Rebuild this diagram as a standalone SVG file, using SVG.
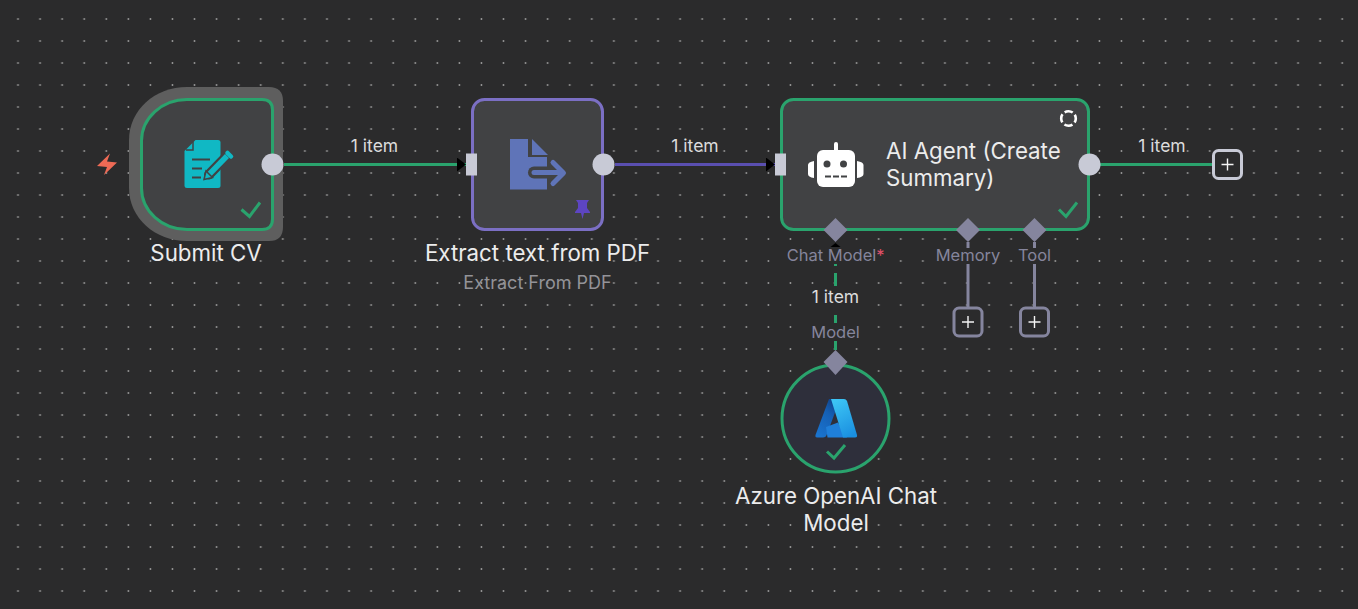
<svg xmlns="http://www.w3.org/2000/svg" width="1358" height="609" viewBox="0 0 1358 609">
<style>
text{font-family:Inter,"Liberation Sans",sans-serif;text-anchor:middle}
.name{font-size:22.300px;fill:#ececec;font-weight:400}
.sub{font-size:18px;fill:#939398}
.item{font-size:17.500px;fill:#dcdcdc}
.port{font-size:16.500px;fill:#85859c}
.card{fill:#414244;stroke-width:3}
.ok{stroke:#2aa36d}
.out{fill:#c8cad6}
.in{fill:#c8cad6}
.dia{fill:#85859e}
.wire{fill:none;stroke-width:3}
.g{stroke:#2aa36d}
.p{stroke:#5a4fb0}
.s{stroke:#85859e}
.check{fill:none;stroke:#2aa36d;stroke-width:3}
.plus{fill:#2b2b2c;stroke-width:3}
.cross{stroke:#f4f4f4;stroke-width:1.400}
</style>
<defs>
<pattern id="dots" x="7" y="8" width="22.070" height="22" patternUnits="userSpaceOnUse">
<circle cx="11" cy="11" r="0.900" fill="#9c9c9c"/>
</pattern>
<marker id="tip" markerWidth="9" markerHeight="14" refX="9" refY="7" orient="auto" markerUnits="userSpaceOnUse"><path d="M0 0L9 7L0 14Z" fill="#000"/></marker>
<linearGradient id="az1" x1="0.800" y1="0" x2="0.200" y2="1"><stop offset="0" stop-color="#0f3f85"/><stop offset="0.400" stop-color="#1560b5"/><stop offset="1" stop-color="#1a74cf"/></linearGradient>
<linearGradient id="az2" x1="0.300" y1="0" x2="0.700" y2="1"><stop offset="0" stop-color="#3cc4f4"/><stop offset="1" stop-color="#1a8fe0"/></linearGradient>
</defs>
<rect width="1358" height="609" fill="#2b2b2c"/>
<rect width="1358" height="609" fill="url(#dots)"/>

<g id="connectors">
<path class="wire g" d="M284 164.500H466" marker-end="url(#tip)"/>
<path class="wire p" d="M615 164.500H775" marker-end="url(#tip)"/>
<path class="wire g" d="M1100 164.500H1213"/>
<path class="wire g" d="M835.500 350V262" stroke-dasharray="14 7"/>
<path d="M830.500 247L835.500 243L840.500 247Z" fill="#000"/>
<path class="wire s" d="M968 242V308"/>
<path class="wire s" d="M1034.500 242V308"/>
<text class="item" x="374.500" y="152">1 item</text>
<text class="item" x="695" y="152">1 item</text>
<text class="item" x="1162" y="152">1 item</text>
<rect x="808" y="286" width="56" height="22" fill="#2b2b2c"/>
<text class="item" x="835.500" y="303">1 item</text>
</g>

<g id="submit-cv">
<path d="M129 140C129 110 155 87 187 87H269Q283 87 283 101V227Q283 241 269 241H187C155 241 129 218 129 188Z" fill="#5e5e5e"/>
<path class="card ok" d="M141.500 141C141.500 118 162 99.500 187 99.500H262Q272.500 99.500 272.500 110V219Q272.500 229.500 262 229.500H187C162 229.500 141.500 211 141.500 188Z"/>
<path d="M97 166L110 153.500L107 161.500L117 162.500L104 175L107 167Z" fill="#ee6a55"/>
<path d="M195.500 140H218Q220.500 140 220.500 142.500V185.500Q220.500 188 218 188H187Q184.500 188 184.500 185.500V151Z" fill="#10b8c4"/>
<path d="M193 141.500V150H186" fill="none" stroke="#414244" stroke-width="1.500"/>
<path d="M192 159.500H210M192 168.500H202M192 177.500H201" stroke="#414244" stroke-width="2" fill="none"/>
<path d="M209 174.500L227 156" stroke="#414244" stroke-width="10" stroke-linecap="round"/>
<path d="M209 174.500L227 156" stroke="#10b8c4" stroke-width="5.500"/>
<path d="M204 179.500L206 171L212.500 177.500Z" fill="#10b8c4" stroke="#414244" stroke-width="1.500"/>
<path d="M227.500 153L231 156.500" stroke="#10b8c4" stroke-width="4.500" stroke-linecap="round"/>
<path class="check" d="M241.500 209.500L249.500 216.500L260 202.500"/>
<circle class="out" cx="272.500" cy="164.500" r="11"/>
<text class="name" x="206" y="261">Submit CV</text>
</g>

<g id="extract-pdf">
<rect class="card" x="472.500" y="99.500" width="130" height="130" rx="12" stroke="#7b6fc4"/>
<rect class="in" x="466" y="153.500" width="11" height="22"/>
<path d="M510 139H528V157H547V189.500H510Z" fill="#5f74b8"/>
<path d="M532 139L548 155H532Z" fill="#5f74b8"/>
<path d="M534 172.500H560" stroke="#414244" stroke-width="12" stroke-linecap="round" fill="none"/>
<path d="M534 172.500H562" stroke="#5f74b8" stroke-width="5" stroke-linecap="round" fill="none"/>
<path d="M553 162.500L563.500 173L553 183.500" stroke="#5f74b8" stroke-width="5" stroke-linecap="round" stroke-linejoin="round" fill="none"/>
<path d="M576 200H589L587 203V208L590 212V213H584L582.500 219L581 213H575V212L578 208V203Z" fill="#5d45c2"/>
<circle class="out" cx="603.500" cy="164.500" r="11"/>
<text class="name" x="537.500" y="261">Extract text from PDF</text>
<text class="sub" x="537.500" y="289">Extract From PDF</text>
</g>

<g id="ai-agent">
<rect class="card ok" x="781.500" y="99.500" width="307" height="130" rx="12"/>
<rect class="in" x="775" y="153.500" width="11" height="22"/>
<rect x="817" y="150" width="38" height="37" rx="6" fill="#fff"/>
<rect x="834" y="142" width="4" height="10" rx="2" fill="#fff"/>
<path d="M814 161V178Q808 177 808 174V165Q808 162 814 161ZM857 161V178Q863.500 177 863.500 174V165Q863.500 162 857 161Z" fill="#fff"/>
<circle cx="827" cy="164" r="3.500" fill="#414244"/>
<circle cx="843.500" cy="164" r="3.500" fill="#414244"/>
<path d="M825 176.500H847" stroke="#414244" stroke-width="2" stroke-dasharray="6 2"/>
<text class="name" x="886" y="159" style="text-anchor:start">AI Agent (Create</text>
<text class="name" x="886" y="186" style="text-anchor:start">Summary)</text>
<circle cx="1068.500" cy="118.500" r="7.300" fill="none" stroke="#fff" stroke-width="2.600" stroke-dasharray="8.500 2.970" stroke-dashoffset="4.250"/>
<path class="check" d="M1059 209.500L1066 216.500L1077 202.500"/>
<circle class="out" cx="1089.500" cy="164.500" r="11"/>
<path class="dia" d="M835.500 218L847.500 230L835.500 242L823.500 230Z"/>
<path class="dia" d="M968 218L980 230L968 242L956 230Z"/>
<path class="dia" d="M1034.500 218L1046.500 230L1034.500 242L1022.500 230Z"/>
<rect x="785" y="248" width="100" height="16" fill="#2b2b2c"/>
<rect x="934" y="248" width="68" height="16" fill="#2b2b2c"/>
<rect x="1017" y="248" width="36" height="16" fill="#2b2b2c"/>
<text class="port" x="831.500" y="261">Chat Model</text>
<text x="880.500" y="261" style="font-size:16.500px;fill:#e0506a">*</text>
<text class="port" x="968" y="261">Memory</text>
<text class="port" x="1034.500" y="261">Tool</text>
</g>

<g id="add-output">
<rect class="plus" x="1213.500" y="150.500" width="28" height="28" rx="5" stroke="#c8cad6"/>
<path class="cross" d="M1221.500 164.500H1233.500M1227.500 158.500V170.500"/>
</g>
<g id="add-memory">
<rect class="plus" x="954" y="308" width="28" height="28" rx="5" stroke="#85859e"/>
<path class="cross" d="M962 322H974M968 316V328"/>
</g>
<g id="add-tool">
<rect class="plus" x="1020.500" y="308" width="28" height="28" rx="5" stroke="#85859e"/>
<path class="cross" d="M1028.500 322H1040.500M1034.500 316V328"/>
</g>

<g id="azure-openai">
<rect x="808" y="323" width="56" height="18" fill="#2b2b2c"/>
<text class="port" x="835.500" y="338">Model</text>
<circle cx="835.500" cy="418.500" r="53.500" fill="#2e2f3b" stroke="#2aa36d" stroke-width="3"/>
<path class="dia" d="M835.500 350L847.500 362L835.500 375L823.500 362Z"/>
<path d="M829 399H840L827 434Q826 437.500 823 437.500H817Q815 437.500 815.500 435Z" fill="url(#az1)"/>
<path d="M826 427L838 422.500L847 437.500H827.500Z" fill="#1f7fda"/>
<path d="M831 399H844Q846 399 847 401L857 435Q857.500 437.500 855 437.500H843Z" fill="url(#az2)"/>
<path class="check" d="M827 451.500L834 458L845 445"/>
<text class="name" x="836" y="504">Azure OpenAI Chat</text>
<text class="name" x="836" y="531">Model</text>
</g>
</svg>
